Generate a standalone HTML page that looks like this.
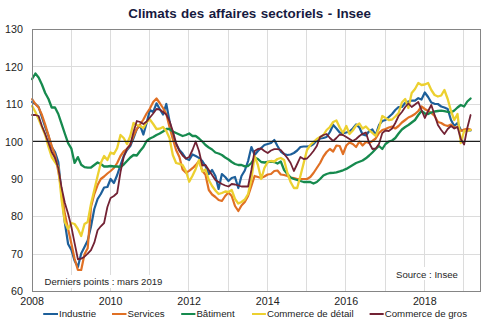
<!DOCTYPE html>
<html><head><meta charset="utf-8"><style>
html,body{margin:0;padding:0;background:#fff;}
body{width:500px;height:326px;overflow:hidden;}
svg{display:block;font-family:"Liberation Sans",sans-serif;}
</style></head><body>
<svg width="500" height="326" viewBox="0 0 500 326">
<rect x="0" y="0" width="500" height="326" fill="#fff"/>
<text x="249.6" y="17.8" text-anchor="middle" font-size="13.4" font-weight="bold" fill="#171a40" word-spacing="0.75">Climats des affaires sectoriels - Insee</text>
<line x1="32.5" y1="66.5" x2="480.5" y2="66.5" stroke="#dcdcdc" stroke-width="1"/>
<line x1="32.5" y1="104.5" x2="480.5" y2="104.5" stroke="#dcdcdc" stroke-width="1"/>
<line x1="32.5" y1="179.5" x2="480.5" y2="179.5" stroke="#dcdcdc" stroke-width="1"/>
<line x1="32.5" y1="216.5" x2="480.5" y2="216.5" stroke="#dcdcdc" stroke-width="1"/>
<line x1="32.5" y1="254.5" x2="480.5" y2="254.5" stroke="#dcdcdc" stroke-width="1"/>
<line x1="71.5" y1="29.5" x2="71.5" y2="291.5" stroke="#dcdcdc" stroke-width="1"/>
<line x1="110.5" y1="29.5" x2="110.5" y2="291.5" stroke="#dcdcdc" stroke-width="1"/>
<line x1="149.5" y1="29.5" x2="149.5" y2="291.5" stroke="#dcdcdc" stroke-width="1"/>
<line x1="188.5" y1="29.5" x2="188.5" y2="291.5" stroke="#dcdcdc" stroke-width="1"/>
<line x1="228.5" y1="29.5" x2="228.5" y2="291.5" stroke="#dcdcdc" stroke-width="1"/>
<line x1="267.5" y1="29.5" x2="267.5" y2="291.5" stroke="#dcdcdc" stroke-width="1"/>
<line x1="306.5" y1="29.5" x2="306.5" y2="291.5" stroke="#dcdcdc" stroke-width="1"/>
<line x1="345.5" y1="29.5" x2="345.5" y2="291.5" stroke="#dcdcdc" stroke-width="1"/>
<line x1="385.5" y1="29.5" x2="385.5" y2="291.5" stroke="#dcdcdc" stroke-width="1"/>
<line x1="424.5" y1="29.5" x2="424.5" y2="291.5" stroke="#dcdcdc" stroke-width="1"/>
<line x1="463.5" y1="29.5" x2="463.5" y2="291.5" stroke="#dcdcdc" stroke-width="1"/>
<rect x="41" y="275" width="124" height="13" fill="#fff"/>
<rect x="392" y="267" width="69" height="13" fill="#fff"/>
<text x="44.6" y="284.6" font-size="9.6" fill="#262626">Derniers points : mars 2019</text>
<text x="396" y="278.2" font-size="9.6" fill="#262626">Source : Insee</text>
<polyline fill="none" stroke="#1d5f9a" stroke-width="2.2" stroke-linejoin="round" stroke-linecap="round" points="32.1,102.0 35.4,104.0 38.6,107.0 41.9,117.0 45.2,127.0 48.5,136.0 51.7,147.0 55.0,152.0 58.3,162.0 61.6,193.6 64.8,222.4 68.1,244.0 71.4,249.9 74.6,260.7 77.9,266.9 81.2,253.6 84.5,247.1 87.7,240.5 91.0,226.5 94.3,209.0 97.6,199.0 100.8,194.0 104.1,187.5 107.4,187.0 110.6,179.0 113.9,183.0 117.2,175.0 120.5,165.0 123.7,156.0 127.0,150.0 130.3,146.0 133.5,138.0 136.8,129.0 140.1,125.5 143.4,134.5 146.6,123.0 149.9,110.0 153.2,112.0 156.5,103.3 159.7,109.0 163.0,114.5 166.3,104.0 169.5,121.0 172.8,136.0 176.1,144.0 179.4,150.0 182.6,153.5 185.9,158.5 189.2,160.0 192.5,154.5 195.7,156.0 199.0,157.9 202.3,161.1 205.5,166.2 208.8,174.1 212.1,170.0 215.4,176.0 218.6,189.0 221.9,174.0 225.2,177.0 228.5,181.0 231.7,178.0 235.0,177.0 238.3,188.0 241.5,176.0 244.8,170.5 248.1,161.0 251.4,147.0 254.6,155.0 257.9,151.0 261.2,148.0 264.4,145.0 267.7,144.0 271.0,143.0 274.3,140.0 277.5,146.0 280.8,151.5 284.1,154.0 287.4,155.0 290.6,154.5 293.9,153.0 297.2,150.5 300.4,147.0 303.7,146.5 307.0,146.5 310.3,146.0 313.5,144.0 316.8,140.5 320.1,138.5 323.4,138.0 326.6,137.0 329.9,132.0 333.2,125.0 336.4,128.5 339.7,132.5 343.0,133.3 346.3,132.5 349.5,131.5 352.8,128.5 356.1,124.5 359.4,127.5 362.6,134.5 365.9,135.5 369.2,131.0 372.4,129.5 375.7,135.0 379.0,125.0 382.3,121.0 385.5,120.0 388.8,117.0 392.1,114.0 395.3,110.0 398.6,107.0 401.9,107.0 405.2,103.0 408.4,101.5 411.7,100.5 415.0,100.7 418.3,98.2 421.5,99.5 424.8,92.5 428.1,97.0 431.3,102.5 434.6,103.8 437.9,104.0 441.2,106.5 444.4,107.5 447.7,109.0 451.0,120.0 454.3,126.0 457.5,123.0 460.8,130.0 464.1,131.0 467.3,130.5 470.6,130.5"/>
<polyline fill="none" stroke="#e07024" stroke-width="2.2" stroke-linejoin="round" stroke-linecap="round" points="32.1,99.2 35.4,104.1 38.6,107.6 41.9,114.8 45.2,124.6 48.5,135.6 51.7,145.9 55.0,155.0 58.3,171.4 61.6,190.9 64.8,213.8 68.1,229.0 71.4,243.8 74.6,258.8 77.9,270.0 81.2,270.0 84.5,254.2 87.7,248.2 91.0,207.0 94.3,194.0 97.6,185.0 100.8,179.0 104.1,176.5 107.4,173.5 110.6,171.0 113.9,168.0 117.2,163.0 120.5,156.0 123.7,151.5 127.0,149.0 130.3,144.0 133.5,136.0 136.8,129.0 140.1,124.5 143.4,119.5 146.6,113.5 149.9,108.5 153.2,102.0 156.5,98.5 159.7,103.0 163.0,108.0 166.3,114.0 169.5,127.0 172.8,139.0 176.1,150.0 179.4,157.0 182.6,169.4 185.9,172.8 189.2,170.9 192.5,168.2 195.7,165.1 199.0,161.0 202.3,170.7 205.5,174.8 208.8,190.0 212.1,194.5 215.4,197.0 218.6,200.0 221.9,201.0 225.2,196.0 228.5,192.5 231.7,196.0 235.0,206.0 238.3,211.0 241.5,205.5 244.8,202.0 248.1,196.0 251.4,186.0 254.6,176.0 257.9,177.0 261.2,178.0 264.4,176.5 267.7,174.5 271.0,174.0 274.3,171.0 277.5,170.5 280.8,174.5 284.1,175.0 287.4,176.0 290.6,177.5 293.9,178.0 297.2,179.0 300.4,179.0 303.7,179.0 307.0,179.0 310.3,177.0 313.5,173.0 316.8,168.0 320.1,163.0 323.4,156.5 326.6,152.0 329.9,149.0 333.2,151.5 336.4,145.5 339.7,146.0 343.0,154.0 346.3,145.5 349.5,142.5 352.8,144.0 356.1,147.0 359.4,141.5 362.6,145.5 365.9,142.0 369.2,143.0 372.4,141.0 375.7,138.5 379.0,133.0 382.3,130.0 385.5,129.0 388.8,127.5 392.1,126.5 395.3,128.5 398.6,126.0 401.9,122.5 405.2,120.0 408.4,117.5 411.7,116.0 415.0,114.0 418.3,111.0 421.5,106.5 424.8,109.0 428.1,111.0 431.3,113.0 434.6,116.0 437.9,122.0 441.2,123.0 444.4,125.0 447.7,126.0 451.0,124.5 454.3,127.5 457.5,127.0 460.8,131.0 464.1,129.5 467.3,128.7 470.6,129.5"/>
<polyline fill="none" stroke="#168a4e" stroke-width="2.3" stroke-linejoin="round" stroke-linecap="round" points="32.1,79.0 35.4,73.5 38.6,77.5 41.9,84.5 45.2,93.0 48.5,99.0 51.7,107.5 55.0,107.5 58.3,114.0 61.6,123.9 64.8,133.5 68.1,143.1 71.4,148.7 74.6,162.9 77.9,157.1 81.2,164.7 84.5,167.1 87.7,167.6 91.0,167.5 94.3,165.0 97.6,162.5 100.8,164.0 104.1,166.5 107.4,166.5 110.6,166.0 113.9,166.5 117.2,166.5 120.5,167.0 123.7,164.5 127.0,161.0 130.3,157.5 133.5,155.0 136.8,155.5 140.1,151.0 143.4,147.0 146.6,141.0 149.9,138.5 153.2,137.0 156.5,135.0 159.7,133.5 163.0,131.5 166.3,129.0 169.5,129.0 172.8,131.5 176.1,133.0 179.4,134.5 182.6,136.0 185.9,135.0 189.2,133.5 192.5,136.0 195.7,136.0 199.0,138.5 202.3,141.5 205.5,145.0 208.8,147.5 212.1,149.5 215.4,152.5 218.6,153.5 221.9,155.0 225.2,157.5 228.5,159.5 231.7,162.0 235.0,164.0 238.3,165.0 241.5,165.0 244.8,166.4 248.1,166.0 251.4,163.0 254.6,157.5 257.9,159.0 261.2,162.0 264.4,162.5 267.7,162.0 271.0,161.5 274.3,162.0 277.5,163.5 280.8,161.5 284.1,170.0 287.4,174.0 290.6,177.5 293.9,179.0 297.2,180.0 300.4,181.0 303.7,182.0 307.0,182.0 310.3,182.0 313.5,183.5 316.8,182.0 320.1,179.0 323.4,175.5 326.6,174.0 329.9,173.0 333.2,172.8 336.4,172.3 339.7,171.4 343.0,170.3 346.3,168.9 349.5,167.0 352.8,165.0 356.1,163.0 359.4,161.7 362.6,160.5 365.9,158.3 369.2,155.5 372.4,152.5 375.7,149.0 379.0,146.0 382.3,149.0 385.5,144.0 388.8,141.5 392.1,140.5 395.3,138.0 398.6,133.5 401.9,129.5 405.2,127.0 408.4,125.0 411.7,122.5 415.0,120.0 418.3,115.0 421.5,111.0 424.8,113.5 428.1,114.0 431.3,112.5 434.6,111.5 437.9,111.0 441.2,110.7 444.4,111.2 447.7,111.8 451.0,112.5 454.3,110.5 457.5,107.5 460.8,105.0 464.1,106.5 467.3,101.5 470.6,98.5"/>
<polyline fill="none" stroke="#ecd030" stroke-width="2.3" stroke-linejoin="round" stroke-linecap="round" points="32.1,106.0 35.4,112.0 38.6,119.0 41.9,127.0 45.2,135.0 48.5,147.0 51.7,157.0 55.0,162.0 58.3,167.0 61.6,200.0 64.8,222.0 68.1,229.0 71.4,223.0 74.6,224.0 77.9,229.0 81.2,236.0 84.5,224.0 87.7,222.0 91.0,204.0 94.3,190.0 97.6,176.0 100.8,163.0 104.1,156.0 107.4,160.0 110.6,152.5 113.9,154.0 117.2,148.0 120.5,135.0 123.7,138.0 127.0,144.0 130.3,136.0 133.5,123.0 136.8,125.0 140.1,126.0 143.4,128.0 146.6,122.0 149.9,119.5 153.2,124.0 156.5,129.0 159.7,128.7 163.0,127.0 166.3,131.0 169.5,138.0 172.8,155.0 176.1,163.0 179.4,163.9 182.6,165.1 185.9,171.0 189.2,181.7 192.5,175.7 195.7,168.9 199.0,160.2 202.3,171.5 205.5,169.5 208.8,180.0 212.1,186.0 215.4,190.5 218.6,194.0 221.9,193.0 225.2,191.5 228.5,192.0 231.7,190.0 235.0,199.0 238.3,203.5 241.5,202.0 244.8,199.5 248.1,194.0 251.4,179.0 254.6,156.0 257.9,165.0 261.2,179.0 264.4,168.0 267.7,162.0 271.0,161.0 274.3,161.5 277.5,159.0 280.8,158.0 284.1,160.0 287.4,173.0 290.6,182.0 293.9,188.0 297.2,188.0 300.4,176.0 303.7,163.0 307.0,150.0 310.3,145.0 313.5,142.0 316.8,139.0 320.1,137.0 323.4,135.0 326.6,130.0 329.9,127.0 333.2,122.0 336.4,120.5 339.7,127.5 343.0,133.0 346.3,126.0 349.5,134.0 352.8,130.5 356.1,125.5 359.4,123.5 362.6,128.5 365.9,126.5 369.2,130.0 372.4,133.0 375.7,136.0 379.0,128.0 382.3,116.0 385.5,118.0 388.8,120.0 392.1,119.5 395.3,116.5 398.6,113.0 401.9,102.5 405.2,99.0 408.4,108.0 411.7,93.0 415.0,89.0 418.3,83.0 421.5,85.0 424.8,84.5 428.1,83.0 431.3,90.0 434.6,95.0 437.9,96.5 441.2,95.5 444.4,90.0 447.7,99.0 451.0,111.0 454.3,120.0 457.5,114.0 460.8,143.0 464.1,131.0 467.3,131.0 470.6,130.0"/>
<polyline fill="none" stroke="#722234" stroke-width="1.8" stroke-linejoin="round" stroke-linecap="round" points="32.1,115.0 35.4,115.0 38.6,116.0 41.9,126.0 45.2,134.0 48.5,143.0 51.7,152.0 55.0,158.0 58.3,168.0 61.6,187.8 64.8,202.8 68.1,213.7 71.4,226.9 74.6,243.2 77.9,259.3 81.2,258.6 84.5,256.7 87.7,253.7 91.0,250.1 94.3,242.7 97.6,230.2 100.8,226.3 104.1,223.0 107.4,207.0 110.6,198.0 113.9,196.0 117.2,193.0 120.5,172.0 123.7,157.0 127.0,148.5 130.3,145.0 133.5,132.0 136.8,121.0 140.1,122.0 143.4,124.0 146.6,121.5 149.9,117.5 153.2,113.5 156.5,109.0 159.7,109.5 163.0,112.0 166.3,114.5 169.5,121.0 172.8,131.0 176.1,143.0 179.4,151.0 182.6,155.5 185.9,158.5 189.2,157.0 192.5,150.0 195.7,141.5 199.0,151.0 202.3,165.5 205.5,164.9 208.8,170.0 212.1,175.0 215.4,180.0 218.6,182.0 221.9,184.0 225.2,185.5 228.5,186.5 231.7,184.0 235.0,184.5 238.3,185.5 241.5,186.5 244.8,186.5 248.1,186.5 251.4,170.0 254.6,151.0 257.9,149.0 261.2,148.5 264.4,151.0 267.7,153.0 271.0,150.5 274.3,149.2 277.5,149.2 280.8,150.0 284.1,154.0 287.4,158.0 290.6,163.0 293.9,171.0 297.2,164.0 300.4,157.0 303.7,159.0 307.0,158.5 310.3,155.0 313.5,151.0 316.8,146.0 320.1,137.0 323.4,135.0 326.6,134.0 329.9,138.0 333.2,141.0 336.4,138.0 339.7,134.5 343.0,135.0 346.3,137.0 349.5,139.0 352.8,141.0 356.1,139.0 359.4,136.0 362.6,133.8 365.9,132.5 369.2,143.0 372.4,149.0 375.7,148.5 379.0,144.0 382.3,133.0 385.5,130.5 388.8,131.0 392.1,128.5 395.3,123.0 398.6,116.0 401.9,112.0 405.2,107.0 408.4,103.5 411.7,107.0 415.0,104.5 418.3,102.0 421.5,110.0 424.8,118.0 428.1,111.0 431.3,105.0 434.6,115.0 437.9,125.0 441.2,130.0 444.4,134.0 447.7,129.0 451.0,126.0 454.3,128.5 457.5,127.0 460.8,139.0 464.1,144.5 467.3,128.0 470.6,115.0"/>
<line x1="32.5" y1="141.4" x2="480.5" y2="141.4" stroke="#1e1e1e" stroke-width="1.4"/>
<rect x="32.5" y="29.5" width="448" height="262" fill="none" stroke="#858585" stroke-width="1"/>
<text x="22.9" y="33.40" text-anchor="end" font-size="10.7" fill="#222">130</text>
<text x="22.9" y="70.81" text-anchor="end" font-size="10.7" fill="#222">120</text>
<text x="22.9" y="108.23" text-anchor="end" font-size="10.7" fill="#222">110</text>
<text x="22.9" y="145.64" text-anchor="end" font-size="10.7" fill="#222">100</text>
<text x="22.9" y="183.06" text-anchor="end" font-size="10.7" fill="#222">90</text>
<text x="22.9" y="220.47" text-anchor="end" font-size="10.7" fill="#222">80</text>
<text x="22.9" y="257.89" text-anchor="end" font-size="10.7" fill="#222">70</text>
<text x="22.9" y="295.30" text-anchor="end" font-size="10.7" fill="#222">60</text>
<text x="32.10" y="304.6" text-anchor="middle" font-size="10.7" fill="#222">2008</text>
<text x="110.64" y="304.6" text-anchor="middle" font-size="10.7" fill="#222">2010</text>
<text x="189.18" y="304.6" text-anchor="middle" font-size="10.7" fill="#222">2012</text>
<text x="267.72" y="304.6" text-anchor="middle" font-size="10.7" fill="#222">2014</text>
<text x="346.26" y="304.6" text-anchor="middle" font-size="10.7" fill="#222">2016</text>
<text x="424.80" y="304.6" text-anchor="middle" font-size="10.7" fill="#222">2018</text>
<line x1="43.2" y1="314" x2="58.0" y2="314" stroke="#1d5f9a" stroke-width="2"/>
<text x="59.0" y="316.9" font-size="9.7" fill="#222">Industrie</text>
<line x1="112" y1="314" x2="126.5" y2="314" stroke="#e07024" stroke-width="2"/>
<text x="127.5" y="316.9" font-size="9.7" fill="#222">Services</text>
<line x1="181.2" y1="314" x2="195.4" y2="314" stroke="#168a4e" stroke-width="2"/>
<text x="196.4" y="316.9" font-size="9.7" fill="#222">Bâtiment</text>
<line x1="252" y1="314" x2="265.9" y2="314" stroke="#ecd030" stroke-width="2"/>
<text x="266.9" y="316.9" font-size="9.7" fill="#222">Commerce de détail</text>
<line x1="369.6" y1="314" x2="383.7" y2="314" stroke="#722234" stroke-width="2"/>
<text x="384.7" y="316.9" font-size="9.7" fill="#222">Commerce de gros</text>
</svg>
</body></html>
